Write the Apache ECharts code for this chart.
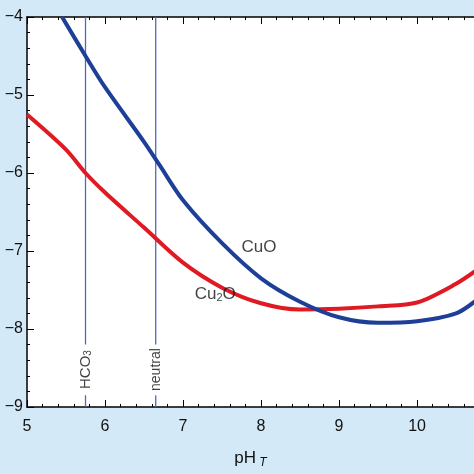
<!DOCTYPE html><html><head><meta charset="utf-8"><script src="https://cdn.jsdelivr.net/npm/echarts@6/dist/echarts.min.js"></script></head><body style="margin:0;background:#d4e9f7"><div id="c" style="width:474px;height:474px"></div><script>
const cuoX=[5.45,5.75,6,6.5,6.7,7,7.5,8,8.5,9,9.5,10,10.5,10.8];
const cuoY=[-4.0,-4.5,-4.9,-5.6,-5.9,-6.35,-6.9,-7.35,-7.65,-7.85,-7.92,-7.9,-7.8,-7.6];
const cu2oX=[5,5.5,5.75,6,6.5,7,7.5,8,8.5,9,9.5,10,10.5,10.8];
const cu2oY=[-5.25,-5.7,-6.0,-6.25,-6.7,-7.15,-7.47,-7.67,-7.75,-7.74,-7.71,-7.66,-7.42,-7.22];
const vlines=[5.75,6.65];
const z=(a,b)=>a.map((v,i)=>[v,b[i]]);
const F='Liberation Sans';
const ax={axisLine:{lineStyle:{color:'#000',width:1.5}},axisTick:{inside:true,length:7,lineStyle:{color:'#000'}},minorTick:{show:true,splitNumber:5,length:3,lineStyle:{color:'#000'}},splitLine:{show:false},axisLabel:{color:'#111',fontSize:16,fontFamily:F}};
const c=echarts.init(document.getElementById('c'));
c.setOption({backgroundColor:'#d4e9f7',animation:false,
grid:{left:27,top:17,bottom:58,right:0,backgroundColor:'#fff',show:true,borderWidth:0},
xAxis:[Object.assign({},ax,{type:'value',min:5,max:10.73,interval:1,axisLabel:Object.assign({},ax.axisLabel,{margin:12,showMaxLabel:false}),name:'{a|pH} {b|T}',nameLocation:'middle',nameGap:40,nameTextStyle:{rich:{a:{fontSize:17,fontFamily:F,color:'#111'},b:{fontSize:12,fontStyle:'italic',fontFamily:F,color:'#111',padding:[10,0,0,0]}}}}),
Object.assign({},ax,{type:'value',position:'top',min:5,max:10.73,interval:1,axisLabel:{show:false}})],
yAxis:Object.assign({},ax,{type:'value',min:-9,max:-4,interval:1,axisLabel:Object.assign({},ax.axisLabel,{margin:4,formatter:v=>'\u2212'+Math.abs(v)})}),
series:[
...vlines.map(x=>({type:'line',data:[[x,-4],[x,-8.2],[x,'-'],[x,-8.85],[x,-9]],connectNulls:false,showSymbol:false,lineStyle:{color:'#4a6bc0',width:1.3},z:1})),
{type:'line',data:z(cuoX,cuoY),smooth:0.3,showSymbol:false,lineStyle:{color:'#1d3f97',width:4},z:3},
{type:'line',data:z(cu2oX,cu2oY),smooth:0.3,showSymbol:false,lineStyle:{color:'#e01a22',width:4},z:2},
{type:'scatter',symbolSize:0,z:5,data:[
 {value:[5.75,-8.52],label:{show:true,rotate:90,formatter:'HCO{s|3}',fontSize:15,color:'#111',fontFamily:F,rich:{s:{fontSize:10,padding:[0,0,-6,0]}}}},
 {value:[6.65,-8.52],label:{show:true,rotate:90,formatter:'neutral',fontSize:14,color:'#111',fontFamily:F}},
 {value:[7.75,-6.95],label:{show:true,formatter:'CuO',fontSize:17,color:'#111',fontFamily:F,align:'left'}},
 {value:[7.15,-7.55],label:{show:true,formatter:'Cu{s|2}O',fontSize:17,color:'#111',fontFamily:F,align:'left',rich:{s:{fontSize:11,padding:[9,0,0,0]}}}}
],label:{position:'inside'}}
]});
</script></body></html>
